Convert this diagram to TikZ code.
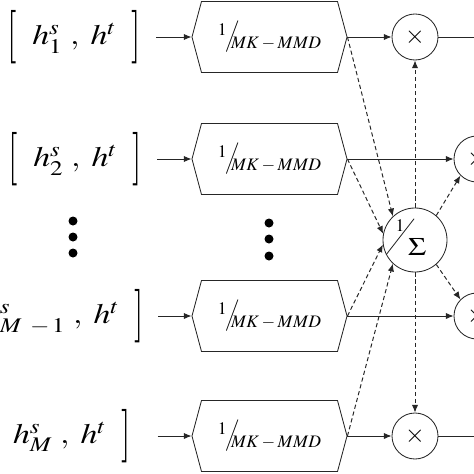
\documentclass[tikz,border=0pt]{standalone}
\usepackage{mathptmx}
\usepackage{tikz}
\usetikzlibrary{calc,positioning,shapes,arrows.meta}

\newcommand{\tallbr}[1]{\raisebox{-4pt}{\scalebox{1}[1.9]{$#1$}}}
\newcommand{\hpair}[1]{\scalebox{1.2}[1]{\tallbr{[}$\;\; h^{s}_{#1}\;,\; h^{t}\;\;$\tallbr{]}}}
\newcommand{\mkmmd}{\raisebox{9pt}{$1$}\kern-1pt\raisebox{5pt}{$\Big/$}\kern-6pt$MK-MMD$}

\begin{document}
\begin{tikzpicture}[x=0.025cm, y=-0.025cm,
  lbl/.style={inner sep=0pt, anchor=east, font=\fontsize{20}{24}\selectfont},
  mmd/.style={signal, signal to=east and west, signal pointer angle=150, draw=black!85, line width=0.6pt,
    minimum width=3.875cm, minimum height=1.775cm, inner sep=0pt, font=\fontsize{12.5}{14}\selectfont},
  prod/.style={circle, draw=black!85, line width=0.6pt, minimum size=1.15cm, inner sep=0pt, font=\fontsize{18}{20}\selectfont},
  flow/.style={draw=black!85, line width=0.7pt, -{Latex[length=5.5pt,width=4.5pt]}},
  wgt/.style={flow, dash pattern=on 3pt off 2pt}]
\useasboundingbox (0,0) rectangle (474,474);
\clip (0,0) rectangle (474,474);
%row 1
\node[lbl] (lbl1) at (141,37) {\hpair{1}};
\node[mmd] (mmd1) at (269.5,37) {\mkmmd};
\node[prod] (prod1) at (415,37) {$\times$};
%row 2
\node[lbl] (lbl2) at (142,159) {\hpair{2}};
\node[mmd] (mmd2) at (269.5,159) {\mkmmd};
\node[prod] (prod2) at (477,159) {$\times$};
%row M-1
\node[lbl] (lbl3) at (144,316) {\hpair{M\;\,-\,1}};
\node[mmd] (mmd3) at (269.5,316) {\mkmmd};
\node[prod] (prod3) at (477,316) {$\times$};
%row M
\node[lbl] (lbl4) at (131,436) {\hpair{M}};
\node[mmd] (mmd4) at (269.5,436) {\mkmmd};
\node[prod] (prod4) at (415,436) {$\times$};
%normaliser
\node[prod, minimum size=1.6cm] (sum) at (415,240) {};
\node[inner sep=0pt, font=\fontsize{12.5}{14}\selectfont] (sumone) at (400,226) {$1$};
\node[inner sep=0pt, font=\fontsize{18}{20}\selectfont] (sumsig) at (417,247) {\scalebox{1.2}[1]{$\Sigma$}};
\draw[draw=black!85, line width=0.6pt] (sum.207) -- ++(28,-36);
\coordinate (out1) at (480,37);
\coordinate (out4) at (480,436);
%dots
\foreach \y in {221,237,253} \fill (73,\y) circle (4.5);
\foreach \y in {223,239,256} \fill (269,\y) circle (4.5);
%inputs
\draw[flow, shorten <=11pt] (lbl1.east) -- (mmd1.west);
\draw[flow, shorten <=11pt] (lbl2.east) -- (mmd2.west);
\draw[flow, shorten <=10pt] (lbl3.east) -- (mmd3.west);
\draw[flow, shorten <=19pt] (lbl4.east) -- (mmd4.west);
\draw[flow] (mmd1.east) -- (prod1);
\draw[flow] (mmd2.east) -- (prod2);
\draw[flow] (mmd3.east) -- (prod3);
\draw[flow] (mmd4.east) -- (prod4);
\draw[draw=black!85, line width=0.7pt] (prod1) -- (out1);
\draw[draw=black!85, line width=0.7pt] (prod4) -- (out4);
%weights
\draw[wgt] (mmd1.east) -- (sum.133);
\draw[wgt] (mmd2.east) -- (sum.169);
\draw[wgt] (mmd3.east) -- (sum.188);
\draw[wgt] (mmd4.east) -- (sum.227);
\draw[wgt] (sum.north) -- (prod1.south);
\draw[wgt] (sum.49) -- (prod2.225);
\draw[wgt] (sum.311) -- (prod3.135);
\draw[wgt] (sum.south) -- (prod4.north);
\end{tikzpicture}
\end{document}
